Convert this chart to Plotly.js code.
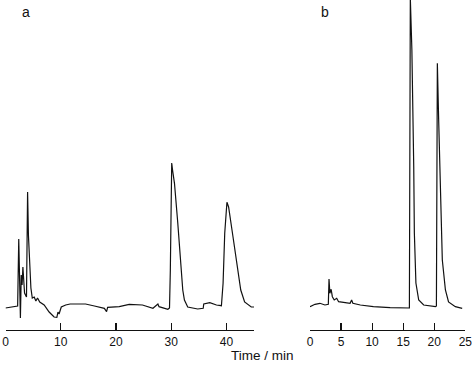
<!DOCTYPE html>
<html>
<head>
<meta charset="utf-8">
<script src="https://cdn.plot.ly/plotly-3.0.1.min.js"></script>
<style>html,body{margin:0;padding:0;background:#fff;}#chart{width:474px;height:376px;}</style>
</head>
<body>
<div id="chart"></div>
<script>
// Panel a: time (min) and detector signal (arbitrary units)
const timeA = [0, 1.5, 2.2, 2.4, 2.55, 2.7, 2.85, 3.0, 3.15, 3.3, 3.45, 3.8, 3.95, 4.0, 4.15, 4.3, 4.45, 4.6, 4.85, 5.2, 5.5, 5.8, 6.2, 7.0, 7.9, 8.8, 9.3, 9.5, 9.7, 10.1, 10.9, 11.7, 12.4, 14.5, 16.1, 17.9, 18.3, 18.5, 20.6, 22.4, 24.8, 26.7, 27.6, 27.8, 29.4, 29.7, 29.85, 29.95, 30.1, 30.25, 30.6, 31.2, 31.8, 32.1, 32.4, 33.0, 34.8, 35.8, 35.9, 37.0, 38.2, 39.1, 39.4, 39.7, 40.1, 40.4, 41.2, 42.0, 42.6, 43.3, 44.5, 45.0];
const signalA = [22, 23.3, 24, 91, 40, 12, 55, 45, 63, 50, 37, 33, 100, 138, 95, 80, 58, 42, 32, 33, 29, 32, 28, 25, 18, 13, 12.7, 18, 16, 23, 25, 26, 26, 26, 24, 21.7, 18.3, 22.7, 23.3, 25.7, 25, 21.7, 26, 23.3, 20.7, 22, 60, 120, 167, 160, 146.7, 106.7, 63, 40, 30, 23, 21, 21.7, 26, 27.3, 25, 24.3, 46.7, 96.7, 127.7, 123, 93, 60, 40, 28, 23, 23];

// Panel b
const timeB = [0, 0.8, 1.6, 2.4, 2.95, 3.06, 3.2, 3.4, 3.6, 3.9, 4.3, 4.6, 5.4, 6.45, 6.7, 6.9, 8.1, 10.2, 12.9, 15.6, 16.0, 16.15, 16.4, 16.7, 16.8, 17.05, 17.5, 18.3, 20.2, 20.35, 20.5, 20.7, 21.1, 21.3, 21.8, 22.3, 23.4, 24.5];
const signalB = [23.3, 25.7, 26.7, 25, 25.7, 51, 36.7, 40.7, 33.3, 30, 31.7, 28.3, 27.7, 26.7, 30, 26.7, 25, 23.3, 22.3, 21.7, 22, 332, 280, 163, 97, 47, 30, 25, 23.3, 24, 266.7, 213, 130, 70, 40, 28, 23.3, 21.7];

const ticksA = [0, 10, 20, 30, 40];
const ticksB = [0, 5, 10, 15, 20, 25];
const panelLabels = ['a', 'b'];
const xTitle = 'Time / min';

const lineStyle = {color: '#111', width: 1.2};
const traces = [
  {x: timeA, y: signalA, type: 'scatter', mode: 'lines', line: lineStyle, xaxis: 'x', yaxis: 'y', hoverinfo: 'skip'},
  {x: timeB, y: signalB, type: 'scatter', mode: 'lines', line: lineStyle, xaxis: 'x2', yaxis: 'y2', hoverinfo: 'skip'}
];

const tickFont = {family: 'Liberation Sans, Arial, sans-serif', size: 12, color: '#111'};
const baseX = {
  showgrid: false, zeroline: false, showline: true, linecolor: '#111', linewidth: 1.2,
  ticks: 'inside', ticklen: 7, tickwidth: 1.2, tickcolor: '#111', tickfont: tickFont,
  tickmode: 'array', fixedrange: true
};
const baseY = {visible: false, range: [0, 330], domain: [46/376, 1], fixedrange: true};

const layout = {
  width: 474, height: 376,
  margin: {l: 0, r: 0, t: 0, b: 0},
  paper_bgcolor: '#fff', plot_bgcolor: '#fff',
  showlegend: false,
  xaxis: Object.assign({}, baseX, {domain: [5.5/474, 254/474], range: [0, 45], tickvals: ticksA, ticktext: ticksA.map(String), anchor: 'y'}),
  yaxis: Object.assign({}, baseY, {anchor: 'x'}),
  xaxis2: Object.assign({}, baseX, {domain: [310/474, 465.3/474], range: [0, 25], tickvals: ticksB, ticktext: ticksB.map(String), anchor: 'y2'}),
  yaxis2: Object.assign({}, baseY, {anchor: 'x2'}),
  annotations: [
    {text: panelLabels[0], xref: 'paper', yref: 'paper', x: 26/474, y: 1 - 12/376, showarrow: false, xanchor: 'center', yanchor: 'middle', font: {family: 'Liberation Sans, Arial, sans-serif', size: 14, color: '#111'}},
    {text: panelLabels[1], xref: 'paper', yref: 'paper', x: 324.5/474, y: 1 - 12/376, showarrow: false, xanchor: 'center', yanchor: 'middle', font: {family: 'Liberation Sans, Arial, sans-serif', size: 14, color: '#111'}},
    {text: xTitle, xref: 'paper', yref: 'paper', x: 262/474, y: 1 - 355/376, showarrow: false, xanchor: 'center', yanchor: 'middle', font: {family: 'Liberation Sans, Arial, sans-serif', size: 13.5, color: '#111'}}
  ]
};

Plotly.newPlot('chart', traces, layout, {displayModeBar: false, staticPlot: true});
</script>
</body>
</html>
